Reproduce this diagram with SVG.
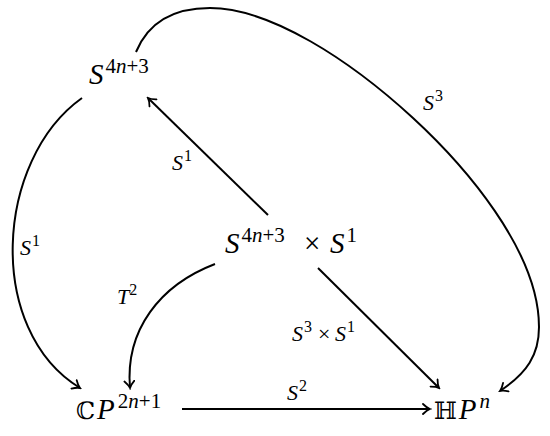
<svg xmlns="http://www.w3.org/2000/svg" width="550" height="436" viewBox="0 0 550 436">
<style>
text{font-family:"Liberation Serif","DejaVu Serif",serif;fill:#000}
.m{font-size:29px}
.i{font-style:italic}
.u{font-style:normal}
.sup{font-size:21px}
.l{font-size:22px}
.ls{font-size:16px;font-style:normal}
.bb{font-family:"DejaVu Serif",serif;font-size:24px}
.c{fill:none;stroke:#000;stroke-width:2}
</style>
<defs>
<marker id="ah" viewBox="-8 -6 10 12" markerWidth="10" markerHeight="12" refX="0" refY="0" orient="auto" markerUnits="userSpaceOnUse">
<path d="M-7,-5 C-4,-2 -1.5,-0.5 0,0 C-1.5,0.5 -4,2 -7,5" fill="none" stroke="#000" stroke-width="1.8" stroke-linecap="round"/>
</marker>
</defs>
<g id="connectors">
<path class="c" d="M182,409 L430,409" marker-end="url(#ah)"/>
<path class="c" d="M318,268 L439,388" marker-end="url(#ah)"/>
<path class="c" d="M268,215 L148,98" marker-end="url(#ah)"/>
<path class="c" d="M82,98 C-5,160 -15,330 80,388" marker-end="url(#ah)"/>
<path class="c" d="M215,264 C160,285 125,330 130,388" marker-end="url(#ah)"/>
<path class="c" d="M136,52 C150,18 180,8 210,8 C270,8 350,60 413,118 C463,164 539,250 539,327 C539,355 527,373 500,391" marker-end="url(#ah)"/>
<text class="l i" x="287" y="400">S<tspan class="ls" dx="1" dy="-9">2</tspan></text>
<text class="l i" x="292" y="341">S<tspan class="ls" dx="1" dy="-9">3</tspan><tspan class="u" x="318" dy="9">×</tspan><tspan x="335">S</tspan><tspan class="ls" dx="1" dy="-9">1</tspan></text>
<text class="l i" x="172" y="170">S<tspan class="ls" dx="1" dy="-9">1</tspan></text>
<text class="l i" x="20" y="255">S<tspan class="ls" dx="1" dy="-9">1</tspan></text>
<text class="l i" x="117" y="304">T<tspan class="ls" dx="0" dy="-9">2</tspan></text>
<text class="l i" x="423" y="110">S<tspan class="ls" dx="1" dy="-9">3</tspan></text>
</g>
<g id="n1"><text class="m" x="89" y="84"><tspan class="i">S</tspan><tspan class="sup" dx="2" dy="-11">4<tspan class="i">n</tspan>+3</tspan></text></g>
<g id="n2"><text class="m" x="225" y="253"><tspan class="i">S</tspan><tspan class="sup" dx="2" dy="-11">4<tspan class="i">n</tspan>+3</tspan><tspan x="304" dy="11">×</tspan><tspan class="i" x="330">S</tspan><tspan class="sup" dx="2" dy="-11">1</tspan></text></g>
<g id="n3"><text class="m" x="76" y="419"><tspan class="bb">ℂ</tspan><tspan class="i" dx="2">P</tspan><tspan class="sup" dx="3" dy="-11">2<tspan class="i">n</tspan>+1</tspan></text></g>
<g id="n4"><text class="m" x="434" y="419"><tspan class="bb">ℍ</tspan><tspan class="i" dx="2">P</tspan><tspan class="sup i" dx="3" dy="-11">n</tspan></text></g>
</svg>
